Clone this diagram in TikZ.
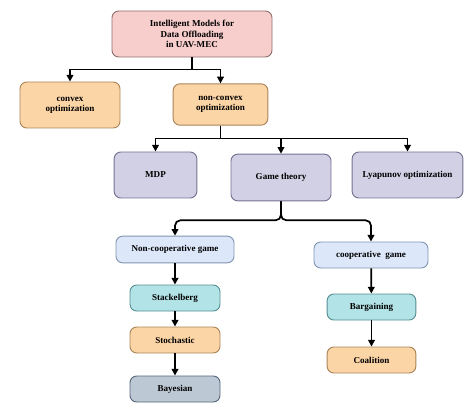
\documentclass[tikz,border=0pt]{standalone}
\usepackage{fontspec}
\setmainfont{Liberation Serif}
\usetikzlibrary{arrows.meta}
\definecolor{pinkfill}{HTML}{F8CECC}
\definecolor{pinkline}{HTML}{8E6E6C}
\definecolor{orangefill}{HTML}{FCD5A6}
\definecolor{orangeline}{HTML}{A88458}
\definecolor{lavfill}{HTML}{D2D0E4}
\definecolor{lavline}{HTML}{747090}
\definecolor{bluefill}{HTML}{DCE8FA}
\definecolor{blueline}{HTML}{8294B0}
\definecolor{tealfill}{HTML}{B2E3E6}
\definecolor{tealline}{HTML}{568E92}
\definecolor{greyfill}{HTML}{BCC8D4}
\definecolor{greyline}{HTML}{56667A}
\tikzset{
	box/.style={draw, rounded corners=5pt, line width=0.7pt, align=center, inner sep=1pt,
		font=\fontsize{6.8}{7.6}\selectfont\bfseries},
	arr/.style={line width=1.3pt, -{Triangle[length=5pt,width=5pt]}}
}
\begin{document}
\begin{tikzpicture}[x=0.75pt, y=-0.75pt]
			%%%%% START %%%%%
			\useasboundingbox (0, 0) rectangle (474, 413);
			
			\node[box, fill=pinkfill, draw=pinkline, minimum width=120pt, minimum height=34.5pt] (models) at (192, 34) {Intelligent Models for\\Data Offloading\\in UAV-MEC};
			
			\node[box, fill=orangefill, draw=orangeline, minimum width=75pt, minimum height=34.5pt] (convex) at (70, 105) {convex\\optimization};
			\node[box, fill=orangefill, draw=orangeline, minimum width=71pt, minimum height=31pt] (nonconvex) at (220.5, 104.5) {non-convex\\optimization};
			
			\node[box, fill=lavfill, draw=lavline, minimum width=62pt, minimum height=34.5pt] (mdp) at (155.5, 175) {MDP};
			\node[box, fill=lavfill, draw=lavline, minimum width=75pt, minimum height=35pt] (game) at (281, 177.5) {Game theory};
			\node[box, fill=lavfill, draw=lavline, minimum width=83pt, minimum height=34.5pt] (lyapunov) at (407.5, 175) {Lyapunov optimization};
			
			\node[box, fill=bluefill, draw=blueline, minimum width=88.5pt, minimum height=20pt] (noncoop) at (175, 249.5) {Non-cooperative game};
			\node[box, fill=bluefill, draw=blueline, minimum width=85.5pt, minimum height=19.5pt] (coop) at (371, 255) {cooperative\ \ game};
			
			\node[box, fill=tealfill, draw=tealline, minimum width=67.5pt, minimum height=19.5pt] (stackelberg) at (175, 298) {Stackelberg};
			\node[box, fill=orangefill, draw=orangeline, minimum width=67.5pt, minimum height=19.5pt] (stochastic) at (175, 340) {Stochastic};
			\node[box, fill=greyfill, draw=greyline, minimum width=67.5pt, minimum height=19.5pt] (bayesian) at (175, 389) {Bayesian};
			
			\node[box, fill=tealfill, draw=tealline, minimum width=66.5pt, minimum height=19.5pt] (bargaining) at (371.5, 307) {Bargaining};
			\node[box, fill=orangefill, draw=orangeline, minimum width=66.5pt, minimum height=19.5pt] (coalition) at (371.5, 360) {Coalition};
			
			\draw[arr] (models.south) -- ++(0, 12) -| (convex.north);
			\draw[arr] (models.south) -- ++(0, 12) -| (nonconvex.north);
			
			\draw[arr] (nonconvex.south) -- ++(0, 13) -| (mdp.north);
			\draw[arr] (nonconvex.south) -- ++(0, 13) -| (game.north);
			\draw[arr] (nonconvex.south) -- ++(0, 13) -| (lyapunov.north);
			
			\draw[arr, rounded corners=4pt] (game.south) -- ++(0, 19) -| (noncoop.north);
			\draw[arr, rounded corners=4pt] (game.south) -- ++(0, 19) -| (coop.north);
			
			\draw[arr] (noncoop) -- (stackelberg);
			\draw[arr] (stackelberg) -- (stochastic);
			\draw[arr] (stochastic) -- (bayesian);
			\draw[arr] (coop) -- (bargaining);
			\draw[arr] (bargaining) -- (coalition);
			%%%%% END %%%%%
\end{tikzpicture}
\end{document}
